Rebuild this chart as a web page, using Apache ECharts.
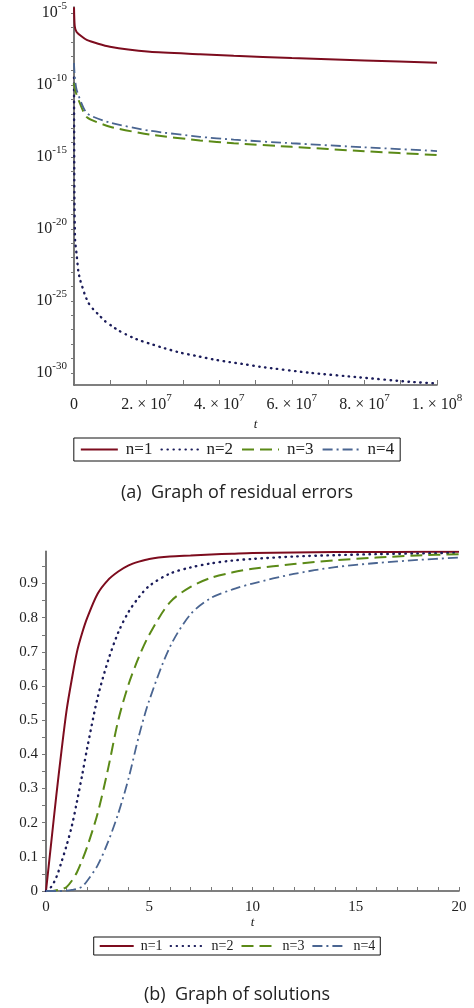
<!DOCTYPE html>
<html><head><meta charset="utf-8">
<script src="https://cdn.jsdelivr.net/npm/echarts@6/dist/echarts.min.js"></script>
<style>html,body{margin:0;padding:0;background:#fff}#c{width:474px;height:1008px}</style>
</head><body><div id="c"></div>
<script>
// ---------- shared ----------
const seriesNames = ['n=1', 'n=2', 'n=3', 'n=4'];
const seriesColors = ['#7d0c1e', '#1b1c5a', '#5b8a17', '#4a6591'];

// ---------- (a) residual errors (values stored as log10 of the residual) ----------
const tErr = [0, 2e5, 7.4e5, 3.5e6, 9.9e6, 2.09e7, 3.47e7, 4.4e7, 6e7, 8e7, 1e8];
const errN1Log = [-4.6, -5.9, -6.32, -6.87, -7.34, -7.69, -7.86, -7.97, -8.13, -8.30, -8.45];
const errN3Log = [-9.86, -10.2, -10.7, -12.22, -12.9, -13.45, -13.85, -14.05, -14.3, -14.6, -14.87];
const errN4Log = [-8.47, -9.4, -10.35, -11.95, -12.62, -13.18, -13.6, -13.8, -14.05, -14.33, -14.59];
const tErrN2 = [0, 1e5, 3e5, 7.4e5, 1.18e6, 1.65e6, 2.28e6, 3.03e6, 3.94e6, 5.31e6, 6.88e6, 8.53e6,
  1.04e7, 1.24e7, 1.43e7, 1.63e7, 1.84e7, 2.07e7, 2.5e7, 2.94e7, 3.39e7, 3.83e7, 4.29e7, 4.73e7,
  5.12e7, 6.49e7, 7.87e7, 9.25e7, 1e8];
const errN2Log = [-9.5, -17.5, -20.78, -21.82, -22.93, -23.51, -24.02, -24.6, -25.13, -25.59, -25.99, -26.41,
  -26.75, -27.08, -27.33, -27.57, -27.78, -27.96, -28.3, -28.61, -28.84, -29.07, -29.26, -29.42,
  -29.58, -30.0, -30.32, -30.63, -30.74];
const errTickLabelExp = [-30, -25, -20, -15, -10, -5];
const errTickExp = [-30,-29,-28,-27,-26,-25,-24,-23,-22,-21,-20,-19,-18,-17,-16,-15,-14,-13,-12,-11,-10,-9,-8,-7,-6,-5];

// ---------- (b) solutions ----------
const tSol = [0, 0.25, 0.5, 0.75, 1, 1.25, 1.5, 1.75, 2, 2.5, 3, 3.5, 4, 4.5, 5, 6, 7, 8, 9, 10, 12, 14, 16, 18, 20];
const solN1 = [0, 0.14, 0.28, 0.41, 0.53, 0.62, 0.70, 0.755, 0.80, 0.87, 0.91, 0.935, 0.953, 0.964, 0.972, 0.979, 0.982, 0.985, 0.987, 0.989, 0.991, 0.992, 0.992, 0.993, 0.993];
const solN2 = [0, 0.012, 0.04, 0.085, 0.134, 0.19, 0.262, 0.339, 0.42, 0.566, 0.673, 0.757, 0.817, 0.86, 0.893, 0.929, 0.947, 0.959, 0.967, 0.972, 0.979, 0.983, 0.986, 0.988, 0.99];
const solN3 = [0, 0, 0.002, 0.005, 0.012, 0.03, 0.055, 0.09, 0.13, 0.227, 0.356, 0.50, 0.605, 0.685, 0.75, 0.845, 0.89, 0.917, 0.932, 0.943, 0.957, 0.968, 0.976, 0.982, 0.986];
const solN4 = [0, 0, 0, 0, 0.001, 0.003, 0.006, 0.013, 0.03, 0.075, 0.143, 0.227, 0.33, 0.454, 0.558, 0.714, 0.81, 0.858, 0.882, 0.90, 0.928, 0.948, 0.96, 0.969, 0.976];
const solYLabels = [0, 0.1, 0.2, 0.3, 0.4, 0.5, 0.6, 0.7, 0.8, 0.9];
const solYTicks = [0,0.05,0.1,0.15,0.2,0.25,0.3,0.35,0.4,0.45,0.5,0.55,0.6,0.65,0.7,0.75,0.8,0.85,0.9,0.95];

// ---------- styling ----------
const serif = 'Liberation Serif';
const lineStyles = [
  { type: 'solid', width: 2 },
  { type: [0.5, 5.5], width: 2.4, cap: 'round' },
  { type: [12, 6], width: 2 },
  { type: [10, 4, 2, 4], width: 1.8 }
];
const axisLineStyle = { color: '#555', width: 1.6 };
const richSup = {
  b: { fontFamily: serif, fontSize: 16, color: '#222', lineHeight: 24 },
  s: { fontFamily: serif, fontSize: 11, color: '#222', lineHeight: 13, verticalAlign: 'top' }
};

const logData = (ts, ls) => ts.map((t, i) => [t, Math.pow(10, ls[i])]);
const linData = (ts, vs) => ts.map((t, i) => [t, vs[i]]);
const errData = [logData(tErr, errN1Log), logData(tErrN2, errN2Log), logData(tErr, errN3Log), logData(tErr, errN4Log)];
const solData = [linData(tSol, solN1), linData(tSol, solN2), linData(tSol, solN3), linData(tSol, solN4)];

const series = [];
seriesNames.forEach((name, i) => {
  series.push({ name, type: 'line', xAxisIndex: 0, yAxisIndex: 0, data: errData[i], symbol: 'none',
    smooth: 0.2, color: seriesColors[i], lineStyle: Object.assign({ color: seriesColors[i] }, lineStyles[i]) });
});
seriesNames.forEach((name, i) => {
  series.push({ name, type: 'line', xAxisIndex: 1, yAxisIndex: 1, data: solData[i], symbol: 'none',
    smooth: 0.3, color: seriesColors[i], lineStyle: Object.assign({ color: seriesColors[i] }, lineStyles[i]) });
});

const legendBase = {
  left: 'center', data: seriesNames,
  borderColor: '#111', borderWidth: 1, borderRadius: 0, backgroundColor: '#fff',
  selectedMode: false,
  itemStyle: { color: 'rgba(0,0,0,0)', borderWidth: 0, opacity: 0 }
};

const option = {
  animation: false,
  backgroundColor: '#fff',
  title: [
    { text: '(a)  Graph of residual errors', left: 'center', top: 484, padding: 0,
      textStyle: { fontFamily: 'Open Sans', fontSize: 18, fontWeight: 'normal', color: '#222' } },
    { text: '(b)  Graph of solutions', left: 'center', top: 986, padding: 0,
      textStyle: { fontFamily: 'Open Sans', fontSize: 18, fontWeight: 'normal', color: '#222' } }
  ],
  legend: [
    Object.assign({}, legendBase, { top: 438, padding: [3, 6], itemWidth: 37, itemHeight: 14, itemGap: 8,
      textStyle: { fontFamily: serif, fontSize: 17, color: '#222', padding: [0, 0, 0, 3] } }),
    Object.assign({}, legendBase, { top: 937, padding: [2, 5], itemWidth: 34, itemHeight: 12, itemGap: 7,
      textStyle: { fontFamily: serif, fontSize: 14, color: '#222', padding: [0, 0, 0, 2] } })
  ],
  grid: [
    { left: 74, top: 7, width: 363, height: 378, outerBoundsMode: 'none', containLabel: false },
    { left: 46, top: 551.4, width: 413, height: 339.6, outerBoundsMode: 'none', containLabel: false }
  ],
  xAxis: [
    { type: 'value', gridIndex: 0, min: 0, max: 1e8, interval: 2e7,
      name: 't', nameLocation: 'middle', nameGap: 33,
      nameTextStyle: { fontFamily: serif, fontStyle: 'italic', fontSize: 13, color: '#222' },
      axisLine: { show: true, onZero: false, lineStyle: axisLineStyle },
      axisTick: { show: true, inside: true, length: 5, lineStyle: { color: '#777', width: 1 } },
      minorTick: { show: true, splitNumber: 2, length: 5, lineStyle: { color: '#777', width: 1 } },
      splitLine: { show: false },
      axisLabel: { margin: 8, showMinLabel: true, showMaxLabel: true, hideOverlap: false,
        formatter: v => {
          if (v === 0) return '{b|0}';
          const e = Math.floor(Math.log10(v) + 1e-9);
          const m = Math.round(v / Math.pow(10, e));
          return '{b|' + m + '. × 10}{s|' + e + '}';
        }, rich: richSup }
    },
    { type: 'value', gridIndex: 1, min: 0, max: 20, interval: 5,
      name: 't', nameLocation: 'middle', nameGap: 25,
      nameTextStyle: { fontFamily: serif, fontStyle: 'italic', fontSize: 13, color: '#222' },
      axisLine: { show: true, onZero: false, lineStyle: axisLineStyle },
      axisTick: { show: true, inside: true, length: 4, lineStyle: { color: '#777', width: 1 } },
      minorTick: { show: true, splitNumber: 5, length: 4, lineStyle: { color: '#777', width: 1 } },
      splitLine: { show: false },
      axisLabel: { margin: 9, fontFamily: serif, fontSize: 15, color: '#222', hideOverlap: false }
    }
  ],
  yAxis: [
    { type: 'log', logBase: 10, gridIndex: 0, min: Math.pow(10, -30.85), max: Math.pow(10, -4.58),
      axisLine: { show: true, onZero: false, lineStyle: axisLineStyle },
      axisTick: { show: true, length: 3, customValues: errTickExp.map(e => Math.pow(10, e)), lineStyle: { color: '#777', width: 1 } },
      splitLine: { show: false },
      axisLabel: { margin: 7, customValues: errTickLabelExp.map(e => Math.pow(10, e)), hideOverlap: false,
        formatter: v => '{b|10}{s|' + Math.round(Math.log10(v)) + '}', rich: richSup }
    },
    { type: 'value', gridIndex: 1, min: 0, max: 0.994,
      axisLine: { show: true, onZero: false, lineStyle: axisLineStyle },
      axisTick: { show: true, length: 4, customValues: solYTicks, lineStyle: { color: '#777', width: 1 } },
      splitLine: { show: false },
      axisLabel: { margin: 8, fontFamily: serif, fontSize: 15, color: '#222', customValues: solYLabels, hideOverlap: false,
        formatter: v => v === 0 ? '0' : v.toFixed(1) }
    }
  ],
  series
};
const chart = echarts.init(document.getElementById('c'), null, { renderer: 'canvas' });
chart.setOption(option);
</script>
</body></html>
